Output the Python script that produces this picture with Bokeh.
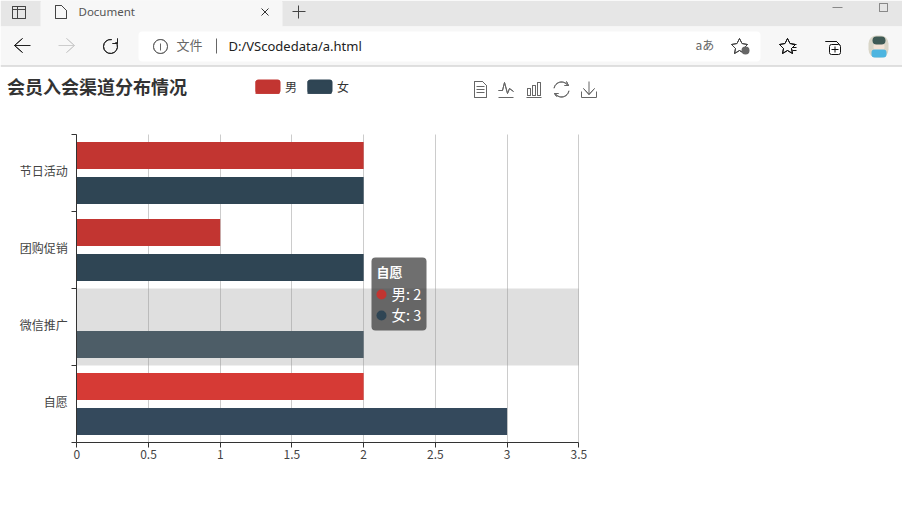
import numpy as np
from bokeh.embed import file_html
from bokeh.resources import INLINE
from bokeh.plotting import figure
from bokeh.models import (BoxAnnotation, ColumnDataSource, FixedTicker, Label, Legend,
                          LegendItem, PolyAnnotation, Range1d)
from bokeh.transform import dodge

# ---------- data ----------
categories = ["自愿", "微信推广", "团购促销", "节日活动"]
male_values = [2, 0, 1, 2]
female_values = [3, 2, 2, 2]
series_names = ["男", "女"]
x_ticks = [0, 0.5, 1, 1.5, 2, 2.5, 3, 3.5]
title_text = "会员入会渠道分布情况"
hover_category = "自愿"
shadow_category = "微信推广"

FONT = "Noto Sans CJK SC"
RED, RED_HI = "#c23531", "#d63a35"
BLUE, BLUE_HI = "#2f4554", "#34495c"
W, H = 902, 518
L, R, T, B = 76.3, 578.3, 134.0, 442.0   # plot area in window px

kx = (R - L) / x_ticks[-1]
ky = (B - T) / len(categories)

p = figure(width=W, height=H, output_backend="svg", toolbar_location=None,
           x_range=Range1d(-L / kx, (W - L) / kx),
           y_range=Range1d(-(H - B) / ky, B / ky),
           min_border=0)
p.outline_line_color = None
p.ygrid.visible = False
p.xgrid.ticker = FixedTicker(ticks=x_ticks)
p.xgrid.grid_line_color = "#cccccc"
p.xgrid.bounds = (x_ticks[0], x_ticks[-1])
p.xgrid.cross_bounds = (0, len(categories))

p.xaxis.fixed_location = 0
p.yaxis.fixed_location = 0
p.xaxis.bounds = (x_ticks[0], x_ticks[-1])
p.yaxis.bounds = (0, len(categories))
p.xaxis.ticker = FixedTicker(ticks=x_ticks)
p.xaxis.major_label_overrides = {t: f"{t:g}" for t in x_ticks}
label_nudge = 0.033  # tick labels sit slightly above the band centre
p.yaxis.ticker = FixedTicker(ticks=[i + 0.5 + label_nudge for i in range(len(categories))],
                             minor_ticks=list(range(len(categories) + 1)))
p.yaxis.major_label_overrides = {i + 0.5 + label_nudge: c for i, c in enumerate(categories)}
p.yaxis.major_tick_in = 0
p.yaxis.major_tick_out = 0
p.yaxis.minor_tick_in = 0
p.yaxis.minor_tick_out = 5
p.yaxis.major_label_standoff = 4
p.xaxis.major_tick_in = 0
p.xaxis.major_tick_out = 5
p.xaxis.major_label_standoff = 2
for ax in (p.xaxis, p.yaxis):
    ax.axis_line_color = "#333333"
    ax.major_tick_line_color = "#333333"
    ax.minor_tick_line_color = "#333333"
    ax.major_label_text_color = "#444444"
    ax.major_label_text_font = FONT
    ax.major_label_text_font_size = "12px"
p.xaxis.minor_tick_line_color = None

pos = [i + 0.5 for i in range(len(categories))]
src = ColumnDataSource(dict(
    y=pos, male=male_values, female=female_values,
    male_color=[RED_HI if c == hover_category else RED for c in categories],
    female_color=[BLUE_HI if c == hover_category else BLUE for c in categories],
))
r_m = p.hbar(y=dodge("y", 0.227, range=p.y_range), right="male", left=0, height=0.351,
             fill_color="male_color", line_color=None, source=src)
r_f = p.hbar(y=dodge("y", -0.227, range=p.y_range), right="female", left=0, height=0.351,
             fill_color="female_color", line_color=None, source=src)

# axis-pointer shadow
p.hbar(y=[categories.index(shadow_category) + 0.5], left=[0], right=[x_ticks[-1]], height=[1],
       fill_color="#969696", fill_alpha=0.3, line_color=None)

legend = Legend(items=[LegendItem(label=series_names[0], renderers=[r_m], index=1),
                       LegendItem(label=series_names[1], renderers=[r_f], index=1)],
                orientation="horizontal", location=(252, H - 95),
                glyph_width=30, glyph_height=16, label_standoff=3, spacing=7, padding=0, margin=0,
                background_fill_alpha=0, border_line_color=None,
                label_text_font=FONT, label_text_font_size="12px", label_text_color="#333333",
                label_height=16, label_width=12, label_text_baseline="middle")
p.add_layout(legend, "center")


# ---------- helpers (window coordinates) ----------
def box(l, t, r, b, color, alpha=1.0, radius=0, line=None):
    p.add_layout(BoxAnnotation(left=l, right=r, top=t, bottom=b,
                               left_units="canvas", right_units="canvas",
                               top_units="canvas", bottom_units="canvas",
                               fill_color=color, fill_alpha=alpha, line_color=line, line_alpha=1,
                               border_radius=radius, level="overlay"))


def text(x, y, s, size="12px", color="#333333", style="normal", align="left", font=FONT):
    p.add_layout(Label(x=x, y=y, x_units="canvas", y_units="canvas", text=s,
                       text_font=font, text_font_size=size, text_color=color,
                       text_font_style=style, text_align=align, text_baseline="middle",
                       level="overlay"))


def path(pts, color="#666666", width=1.0):
    pts = list(pts)
    loop = pts + pts[-2:0:-1]
    p.add_layout(PolyAnnotation(xs=[a for a, _ in loop], ys=[b for _, b in loop],
                                xs_units="canvas", ys_units="canvas",
                                fill_alpha=0, line_color=color, line_alpha=1, line_width=width,
                                level="overlay"))


def arc(x0, y0, r, a0, a1, n=14):
    return [(x0 + r * np.cos(t), y0 + r * np.sin(t))
            for t in np.radians(np.linspace(a0, a1, n))]


# rounded legend swatches, laid exactly over the legend's own square glyphs
box(255, 79, 280, 93, RED, radius=3)
box(307, 79, 332, 93, BLUE, radius=3)

# ---------- browser chrome ----------
box(0, 0, 902, 26, "#e6e6e6")
box(40, 0, 282, 27, "#f7f7f7", radius=2)
box(0, 26, 902, 65, "#f7f7f7")
box(0, 65, 902, 66, "#c2c2c2")
box(138, 31, 760, 61, "#ffffff", radius=4)
path([(12, 6), (25, 6), (25, 18), (12, 18), (12, 6)], "#444444")
path([(12, 9), (25, 9)], "#444444"); path([(17, 6), (17, 18)], "#444444")
path([(55, 5), (61, 5), (66, 10), (66, 18), (55, 18), (55, 5)], "#444444")
text(78, 11, "Document", "11.5px", "#555555", font="Noto Sans")
path([(261, 8), (268, 15)], "#333333"); path([(268, 8), (261, 15)], "#333333")
path([(292, 11), (305, 11)], "#444444"); path([(298, 5), (298, 18)], "#444444")
path([(832, 7), (842, 7)], "#888888")
path([(879, 3), (887, 3), (887, 11), (879, 11), (879, 3)], "#888888")
path([(14, 45), (30, 45)], "#222222"); path([(22, 38), (14, 45), (22, 52)], "#222222")
path([(58, 45), (74, 45)], "#cccccc"); path([(66, 38), (74, 45), (66, 52)], "#cccccc")
path(arc(110, 46, 7, -40, 280), "#222222"); path([(117, 38), (117, 43), (112, 43)], "#222222")
path(arc(160, 46, 7, 0, 360, 24), "#666666"); path([(160, 43), (160, 50)], "#666666")
text(176, 44, "文件", "13px", "#666666")
path([(216, 38), (216, 53)], "#666666")
text(228, 45, "D:/VScodedata/a.html", "13px", "#222222", font="Noto Sans")
text(695, 44, "aあ", "12px", "#666666")
star = [(0, -7), (2.5, -2), (8, -1), (4, 3), (5, 8), (0, 5), (-5, 8), (-4, 3), (-8, -1), (-2.5, -2), (0, -7)]
path([(739 + a, 45 + b) for a, b in star], "#444444")
box(741, 46, 749, 54, "#666666", radius=4)
path([(787 + a, 45 + b) for a, b in star], "#111111")
for yy in (44, 47, 50):
    path([(792, yy), (796, yy)], "#111111")
path([(825, 41), (836, 41), (839, 44)], "#111111")
box(829, 44, 840, 54, "#ffffff", line="#111111", radius=2)
path([(834.5, 46), (834.5, 52)], "#111111"); path([(831, 49), (838, 49)], "#111111")
box(868, 35, 888, 57, "#d9d6c8", radius=8)
box(873, 41, 884, 52, "#f3e3d5", radius=5)
box(872, 36, 885, 44, "#3f5a55", radius=5)
box(871, 49, 886, 57, "#4db5e0", radius=3)

# ---------- title & toolbox ----------
text(6.5, 85.5, title_text, "18px", "#333333", style="bold")
path([(474, 81), (482, 81), (486, 85), (486, 97), (474, 97), (474, 81)])
for yy in (86, 89, 92):
    path([(476, yy), (484, yy)])
path([(498, 97), (513, 97)])
path([(498, 90), (502, 90), (504, 82), (507, 93), (509, 88), (513, 91)])
path([(526, 97), (541, 97)])
for a, t_ in ((527, 88), (532, 85), (537, 82)):
    path([(a, 95), (a, t_), (a + 3, t_), (a + 3, 95), (a, 95)])
path(arc(561, 89, 7.5, 190, 330)); path(arc(561, 89, 7.5, 10, 150))
path([(566, 81), (568, 85), (564, 85)]); path([(556, 96), (554, 93), (558, 93)])
path([(581, 97), (596, 97)]); path([(581, 91), (581, 97)]); path([(596, 91), (596, 97)])
path([(588.5, 81), (588.5, 94)]); path([(583, 88), (588.5, 94), (594, 88)])

# ---------- tooltip ----------
hi = categories.index(hover_category)
box(371, 257, 426, 330, "#323232", alpha=0.7, radius=4)
text(376, 271, hover_category, "13px", "#ffffff", style="bold")
box(376, 289, 386, 299, RED, radius=5)
text(391, 292.5, f"{series_names[0]}: {male_values[hi]}", "14.5px", "#ffffff")
box(376, 310, 386, 320, BLUE, radius=5)
text(391, 313.5, f"{series_names[1]}: {female_values[hi]}", "14.5px", "#ffffff")

open("out.html", "w").write(file_html(p, INLINE))
